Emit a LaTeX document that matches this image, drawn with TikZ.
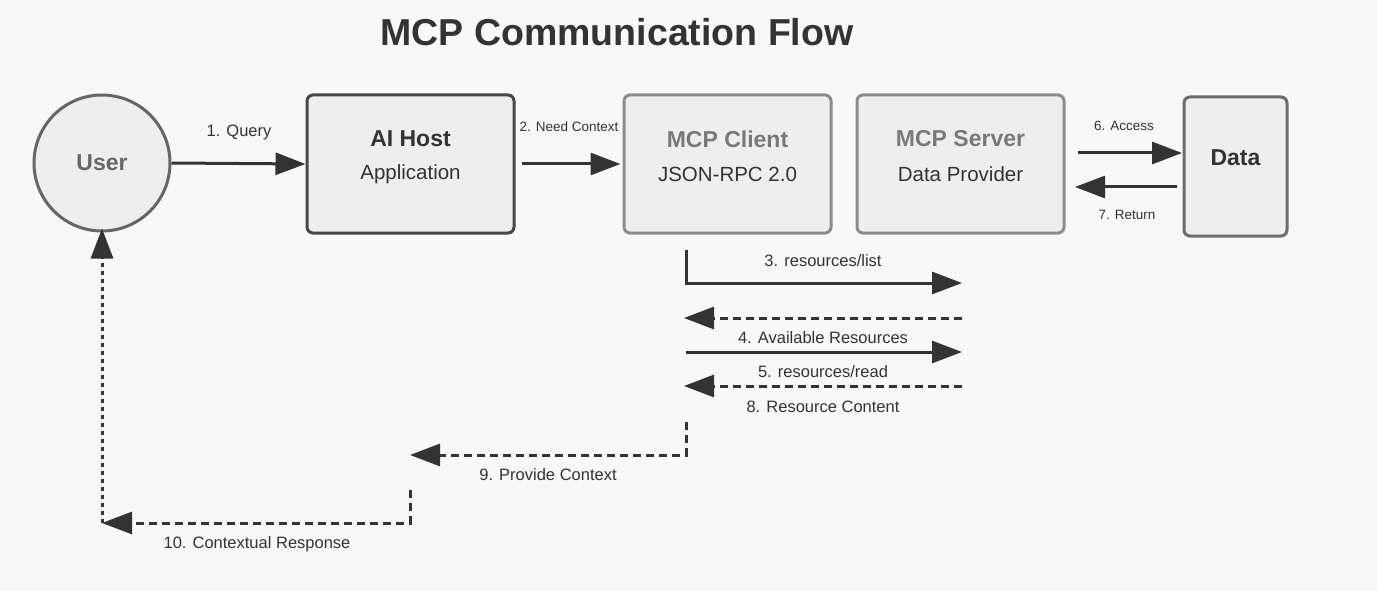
\documentclass[tikz,border=0pt]{standalone}
\usepackage{fontspec}
\setmainfont{Liberation Sans}
\usetikzlibrary{arrows.meta}
\definecolor{bg}{HTML}{F8F8F8}
\definecolor{dk}{HTML}{333333}
\definecolor{boxfill}{HTML}{EEEEEE}
\begin{document}
\begin{tikzpicture}[x=1pt,y=-1pt,
  box/.style={draw=#1,line width=3pt,fill=boxfill,rounded corners=6pt,minimum width=207pt,minimum height=138pt,inner sep=0pt},
  arr/.style={draw=dk,line width=3pt,-{Triangle[length=30pt,width=22pt]}},
  darr/.style={arr,dash pattern=on 8pt off 5pt},
  dotarr/.style={arr,dash pattern=on 4pt off 4pt},
  lbl/.style={text=dk,font=\fontsize{16.5}{19}\selectfont},
  slbl/.style={text=dk,font=\fontsize{13.5}{16}\selectfont},
  ttl/.style={font=\bfseries\fontsize{23}{27}\selectfont},
  sub/.style={text=dk,font=\fontsize{20.5}{24}\selectfont}]
\fill[bg] (0,0) rectangle (1377,591);
\useasboundingbox (0,0) rectangle (1377,591);
\node[text=dk,font=\bfseries\fontsize{37.5}{44}\selectfont] (title) at (617,32) {MCP Communication Flow};
\node[circle,draw=gray!80!black,line width=3pt,fill=boxfill,minimum size=136pt,text=gray!80!black,font=\bfseries\fontsize{23}{27}\selectfont] (user) at (102,163) {User};
\node[box=dk!90] (host) at (410.5,164) {};
\node[ttl,text=dk] (hostt) at (410.5,139) {AI Host};
\node[sub] (hosts) at (410.5,174) {Application};
\node[box=gray!90] (client) at (727.5,164) {};
\node[ttl,text=gray!95!black] (clientt) at (727.5,139) {MCP Client};
\node[sub] (clients) at (727.5,174) {JSON-RPC 2.0};
\node[box=gray!90] (server) at (960.5,164) {};
\node[ttl,text=gray!95!black] (servert) at (960.5,139) {MCP Server};
\node[sub] (servers) at (960.5,174) {Data Provider};
\node[box=gray!85!black,minimum width=103pt,minimum height=139pt] (data) at (1235.5,166.5) {};
\node[ttl,text=dk] (datat) at (1235.5,158) {Data};
\draw[arr] (user.east) -- (host.west);
\node[lbl] (l1) at (239,132) {1. Query};
\draw[arr] ([xshift=6pt]host.east) -- ([xshift=-2pt]client.west);
\node[slbl] (l2) at (569,127) {2. Need Context};
\coordinate (a6s) at (1078,153); \coordinate (a6e) at (1182,153);
\draw[arr] (a6s) -- (a6e);
\node[slbl] (l6) at (1124,126) {6. Access};
\coordinate (a7s) at (1177,187); \coordinate (a7e) at (1075,187);
\draw[arr] (a7s) -- (a7e);
\node[slbl] (l7) at (1127,215) {7. Return};
\coordinate (c3a) at (686,250); \coordinate (c3b) at (686,283); \coordinate (c3c) at (962,283);
\draw[arr] (c3a) -- (c3b) -- (c3c);
\node[lbl] (l3) at (823,261) {3. resources/list};
\coordinate (d1a) at (962,318); \coordinate (d1b) at (684,318);
\draw[darr] (d1a) -- (d1b);
\node[lbl] (l4) at (823,338) {4. Available Resources};
\coordinate (s2a) at (686,352); \coordinate (s2b) at (962,352);
\draw[arr] (s2a) -- (s2b);
\node[lbl] (l5) at (823,372) {5. resources/read};
\coordinate (d2a) at (962,386); \coordinate (d2b) at (684,386);
\draw[darr] (d2a) -- (d2b);
\node[lbl] (l8) at (823,407) {8. Resource Content};
\coordinate (c9a) at (686,422); \coordinate (c9b) at (686,455); \coordinate (c9c) at (410,455);
\draw[darr] (c9a) -- (c9b) -- (c9c);
\node[lbl] (l9) at (548,475) {9. Provide Context};
\coordinate (c10a) at (410,490); \coordinate (c10b) at (410,523); \coordinate (c10c) at (102,523);
\draw[darr] (c10a) -- (c10b) -- (c10c);
\node[lbl] (l10) at (257,544) {10. Contextual Response};
\coordinate (u1) at (102,523);
\draw[dotarr] (u1) -- ([yshift=4pt]user.south);
\end{tikzpicture}
\end{document}
